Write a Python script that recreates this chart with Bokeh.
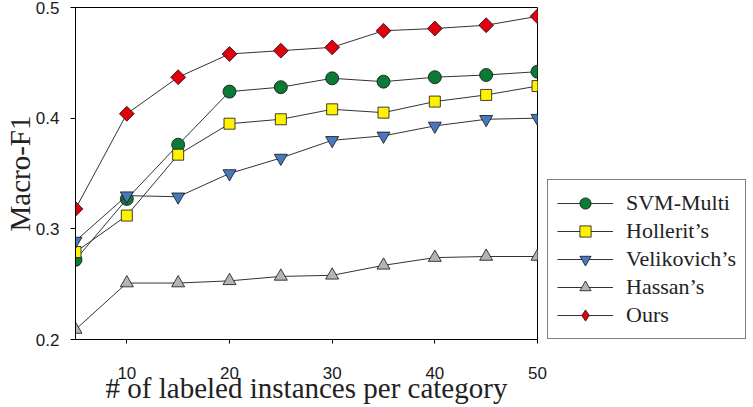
import math
from bokeh.plotting import figure
from bokeh.models import Range1d, FixedTicker, Legend, LegendItem
from bokeh.embed import file_html
from bokeh.resources import INLINE

# ---- data ----
x_vals = [5, 10, 15, 20, 25, 30, 35, 40, 45, 50]
svm_multi = [0.272, 0.327, 0.376, 0.424, 0.428, 0.436, 0.433, 0.437, 0.439, 0.442]
hollerit = [0.279, 0.312, 0.367, 0.395, 0.399, 0.408, 0.405, 0.415, 0.421, 0.429]
velikovich = [0.289, 0.330, 0.329, 0.350, 0.364, 0.380, 0.384, 0.393, 0.399, 0.400]
hassan = [0.209, 0.251, 0.251, 0.253, 0.257, 0.258, 0.267, 0.274, 0.275, 0.275]
ours = [0.318, 0.404, 0.437, 0.458, 0.461, 0.464, 0.479, 0.481, 0.484, 0.492]

series_names = ["SVM-Multi", "Hollerit\u2019s", "Velikovich\u2019s", "Hassan\u2019s", "Ours"]
x_ticks = [10, 20, 30, 40, 50]
y_ticks = [0.2, 0.3, 0.4, 0.5]
x_title = "# of labeled instances per category"
y_title = "Macro-F1"

series_values = [svm_multi, hollerit, velikovich, hassan, ours]
styles = [
    dict(marker="circle", color="#0a7a35", size=13, angle=0.0, legend_marker=None),
    dict(marker="square", color="#fff200", size=11, angle=0.0, legend_marker=None),
    dict(marker="inverted_triangle", color="#4a78c0", size=13, angle=0.0, legend_marker=None),
    dict(marker="triangle", color="#b4b4b4", size=13, angle=0.0, legend_marker=None),
    dict(marker="square", color="#e0000e", size=10.5, angle=math.pi / 4, legend_marker="diamond"),
]

p = figure(
    frame_width=462, frame_height=332,
    output_backend="svg", toolbar_location=None,
    x_range=Range1d(5, 50), y_range=Range1d(0.2, 0.5),
    min_border_left=0, min_border_right=0,
    min_border_top=7, min_border_bottom=0,
)
p.background_fill_color = "white"
p.border_fill_color = "white"
p.outline_line_color = "black"
p.outline_line_width = 1
p.xgrid.visible = False
p.ygrid.visible = False

for ax in (p.xaxis, p.yaxis):
    ax.axis_line_color = "black"
    ax.axis_line_width = 1
    ax.major_tick_line_color = "black"
    ax.minor_tick_line_color = None
    ax.major_tick_in = 0
    ax.major_label_text_font = "Liberation Sans"
    ax.major_label_text_font_size = "17px"
    ax.major_label_text_color = "#1a1a1a"
    ax.axis_label_text_font = "Liberation Serif"
    ax.axis_label_text_font_size = "29px"
    ax.axis_label_text_font_style = "normal"
    ax.axis_label_text_color = "#222222"

p.xaxis.axis_label = x_title
p.yaxis.axis_label = y_title
p.xaxis.ticker = FixedTicker(ticks=x_ticks)
p.yaxis.ticker = FixedTicker(ticks=y_ticks)
p.xaxis.major_tick_out = 4
p.yaxis.major_tick_out = 5
p.xaxis.major_label_standoff = 23
p.yaxis.major_label_standoff = 11
p.xaxis.axis_label_standoff = -10
p.yaxis.axis_label_standoff = -3
p.yaxis.major_label_overrides = {t: f"{t:.1f}" for t in y_ticks}
p.xaxis.major_label_overrides = {t: str(t) for t in x_ticks}

items = []
for name, vals, st in zip(series_names, series_values, styles):
    ln = p.line(x_vals, vals, line_color="#333333", line_width=1)
    lg = None
    if st["legend_marker"] is not None:
        # narrower diamond drawn underneath (fully covered by the rotated square);
        # used for the legend, since legend glyphs ignore the marker angle
        lg = p.scatter(x_vals, vals, marker=st["legend_marker"], size=st["size"] + 2,
                       fill_color=st["color"], line_color="#111111", line_width=0.8)
    sc = p.scatter(x_vals, vals, marker=st["marker"], size=st["size"], angle=st["angle"],
                   fill_color=st["color"], line_color="#111111", line_width=0.8)
    items.append(LegendItem(label=name, renderers=[ln, lg if lg is not None else sc]))

legend = Legend(
    items=items, location=(10, 0),
    border_line_color="black", border_line_width=1,
    background_fill_color="white", background_fill_alpha=1,
    label_text_font="Liberation Serif", label_text_font_size="22px",
    label_text_color="#222222",
    glyph_width=56, glyph_height=28, label_height=20,
    label_standoff=13, spacing=0, padding=9, margin=0,
)
p.add_layout(legend, "right")

open("out.html", "w").write(file_html(p, INLINE))
